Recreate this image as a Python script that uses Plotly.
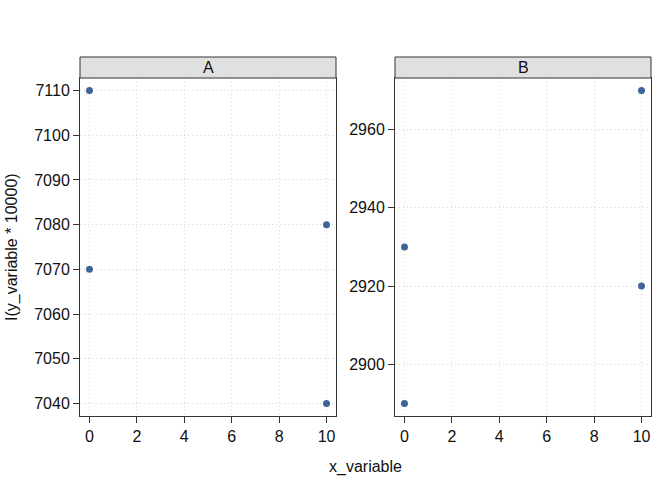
import plotly.graph_objects as go

panels = ["A", "B"]
x_values = [0, 0, 10, 10]
y_a = [7110, 7070, 7080, 7040]
y_b = [2930, 2890, 2970, 2920]
x_ticks = [0, 2, 4, 6, 8, 10]
y_ticks_a = [7040, 7050, 7060, 7070, 7080, 7090, 7100, 7110]
y_ticks_b = [2900, 2920, 2940, 2960]

W, H = 672, 480
font = "Liberation Sans, Arial, sans-serif"
pt_color = "#3E6499"

def px_x(p):
    return p / W

def px_y(p):
    return 1 - p / H

top, bot = 78, 416
strip_top = 57
dom_a = [px_x(80), px_x(336)]
dom_b = [px_x(395), px_x(651)]
ydom = [px_y(bot), px_y(top)]

fig = go.Figure()
fig.add_trace(go.Scatter(x=x_values, y=y_a, mode="markers", xaxis="x", yaxis="y",
                         marker=dict(color=pt_color, size=7), showlegend=False))
fig.add_trace(go.Scatter(x=x_values, y=y_b, mode="markers", xaxis="x2", yaxis="y2",
                         marker=dict(color=pt_color, size=7), showlegend=False))

common = dict(ticks="outside", ticklen=6, tickcolor="#333", showline=True, mirror=True,
              linecolor="#333", linewidth=1, showgrid=True, gridcolor="#D6D6D6",
              griddash="1px,3px", gridwidth=1, zeroline=False, automargin=False,
              tickfont=dict(family=font, size=16, color="#111"))

def xaxis(dom, anchor):
    return dict(domain=dom, anchor=anchor, range=[-0.4, 10.4], tickvals=x_ticks, **common)

def yaxis(dom, anchor, rng, ticks):
    return dict(domain=dom, anchor=anchor, range=rng, tickvals=ticks, **common)

shapes = []
annotations = []
for dom, label in [(dom_a, "A"), (dom_b, "B")]:
    shapes.append(dict(type="rect", xref="paper", yref="paper", x0=dom[0], x1=dom[1],
                       y0=px_y(top), y1=px_y(strip_top), fillcolor="#E0E0E0",
                       line=dict(color="#333", width=1), layer="above"))
    annotations.append(dict(text=label, xref="paper", yref="paper",
                            x=(dom[0] + dom[1]) / 2, y=(px_y(top) + px_y(strip_top)) / 2,
                            showarrow=False, xanchor="center", yanchor="middle",
                            font=dict(family=font, size=16, color="#111")))

annotations.append(dict(text="x_variable", xref="paper", yref="paper", x=px_x(366),
                        y=px_y(467), showarrow=False, xanchor="center", yanchor="middle",
                        font=dict(family=font, size=16, color="#111")))
annotations.append(dict(text="I(y_variable * 10000)", xref="paper", yref="paper", x=px_x(12),
                        y=px_y(247), showarrow=False, xanchor="center", yanchor="middle",
                        textangle=-90, font=dict(family=font, size=16, color="#111")))

fig.update_layout(
    width=W, height=H, margin=dict(l=0, r=0, t=0, b=0, autoexpand=False),
    paper_bgcolor="white", plot_bgcolor="white",
    xaxis=xaxis(dom_a, "y"), yaxis=yaxis(ydom, "x", [7037.2, 7112.8], y_ticks_a),
    xaxis2=xaxis(dom_b, "y2"), yaxis2=yaxis(ydom, "x2", [2886.8, 2973.2], y_ticks_b),
    shapes=shapes, annotations=annotations,
)

fig.write_html("out.html", config={"displayModeBar": False},
               post_script="document.body.style.margin='0px';")
